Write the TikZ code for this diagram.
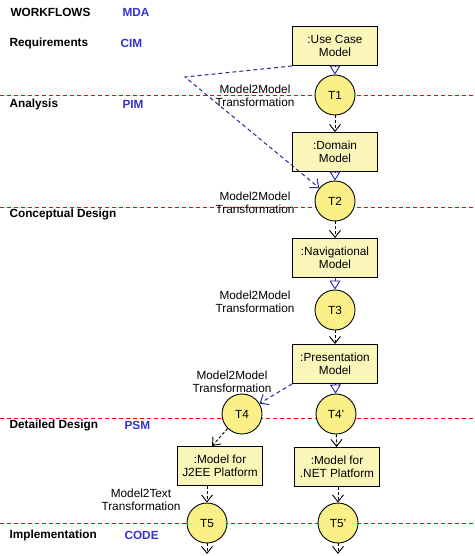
\documentclass[tikz,border=0pt]{standalone}
\usepackage{fontspec}
\setmainfont{Liberation Sans}
\usetikzlibrary{arrows.meta}
\definecolor{boxyellow}{RGB}{250,246,186}
\definecolor{circyellow}{RGB}{250,240,135}
\definecolor{mdablue}{RGB}{51,51,204}
\definecolor{linkblue}{RGB}{40,40,150}

\begin{document}
\begin{tikzpicture}[x=1pt, y=-1pt,
	every node/.style={font=\fontsize{11.8}{13.5}\selectfont},
	model/.style={draw, line width=0.9pt, fill=boxyellow, align=center, minimum width=85pt, minimum height=39pt, inner sep=1pt},
	trafo/.style={draw, line width=0.9pt, circle, fill=circyellow, minimum size=40pt, inner sep=0pt},
	trlabel/.style={align=center},
	phase/.style={anchor=west, font=\fontsize{11.8}{13.5}\selectfont\bfseries},
	level/.style={phase, text=mdablue},
	seam/.style={red, line width=0.8pt, dash pattern=on 4pt off 3pt},
	derive/.style={line width=0.9pt, dash pattern=on 3pt off 2pt, -{Straight Barb[length=7pt,width=11pt]}},
	refine/.style={linkblue, line width=0.9pt, dash pattern=on 3pt off 2pt, -{Triangle[open,length=9pt,width=11pt]}},
	trace/.style={linkblue, line width=1pt, dash pattern=on 4pt off 3pt, -{Straight Barb[length=7pt,width=12pt]}}]
	\useasboundingbox (0,0) rectangle (474,556);

	% workflow boundaries
	\foreach \y in {95,207,418,523}
		\draw[seam] (0,\y) -- (474,\y);

	% workflows and MDA levels
	\node[phase] (wf) at (7,12) {WORKFLOWS};
	\node[level] (mda) at (119,12) {MDA};
	\node[phase] (req) at (6,43) {Requirements};
	\node[level] (cim) at (117,43) {CIM};
	\node[phase] (ana) at (6,104) {Analysis};
	\node[level] (pim) at (119,104) {PIM};
	\node[phase] (cd) at (6,214) {Conceptual Design};
	\node[phase] (dd) at (6,425) {Detailed Design};
	\node[level] (psm) at (121,425) {PSM};
	\node[phase] (impl) at (6,535) {Implementation};
	\node[level] (code) at (121,535) {CODE};

	% models and transformations
	\node[model] (uc) at (335,46) {:Use Case\\Model};
	\node[trafo] (t1) at (335,95) {T1};
	\node[model] (dm) at (335,152) {:Domain\\Model};
	\node[trafo] (t2) at (335,201) {T2};
	\node[model] (nm) at (335,258) {:Navigational\\Model};
	\node[trafo] (t3) at (335,310) {T3};
	\node[model] (pm) at (335,364) {:Presentation\\Model};
	\node[trafo] (t4b) at (336,414) {T4'};
	\node[trafo] (t4) at (242,414) {T4};
	\node[model] (j2ee) at (220,466) {:Model for\\J2EE Platform};
	\node[model] (net) at (337,467) {:Model for\\.NET Platform};
	\node[trafo] (t5) at (207,523) {T5};
	\node[trafo] (t5b) at (338,523) {T5'};

	\node[trlabel] (l1) at (255,96) {Model2Model\\Transformation};
	\node[trlabel] (l2) at (255,203) {Model2Model\\Transformation};
	\node[trlabel] (l3) at (255,302) {Model2Model\\Transformation};
	\node[trlabel] (l4) at (232,382) {Model2Model\\Transformation};
	\node[trlabel] (l5) at (141,500) {Model2Text\\Transformation};

	\coordinate (bend) at (185,77);
	\coordinate (e5) at (207,554);
	\coordinate (e5b) at (338,554);

	% main column
	\draw[refine] (uc) -- (t1);
	\draw[derive] (t1) -- (dm);
	\draw[refine] (dm) -- (t2);
	\draw[derive] (t2) -- (nm);
	\draw[refine] (nm) -- (t3);
	\draw[derive] (t3) -- (pm);
	\draw[refine] (pm) -- (t4b);
	\draw[derive] (t4b) -- (net);
	\draw[derive] (net.south -| t5b) -- (t5b);
	\draw[derive] (t5b) -- (e5b);

	% platform branch
	\draw[trace] (uc.south west) -- (bend) -- (t2);
	\draw[trace] (pm.south west) -- (t4);
	\draw[derive] (t4.south west) -- ([xshift=-8pt]j2ee.north);
	\draw[derive] (j2ee.south -| t5) -- (t5);
	\draw[derive] (t5) -- (e5);
\end{tikzpicture}
\end{document}
